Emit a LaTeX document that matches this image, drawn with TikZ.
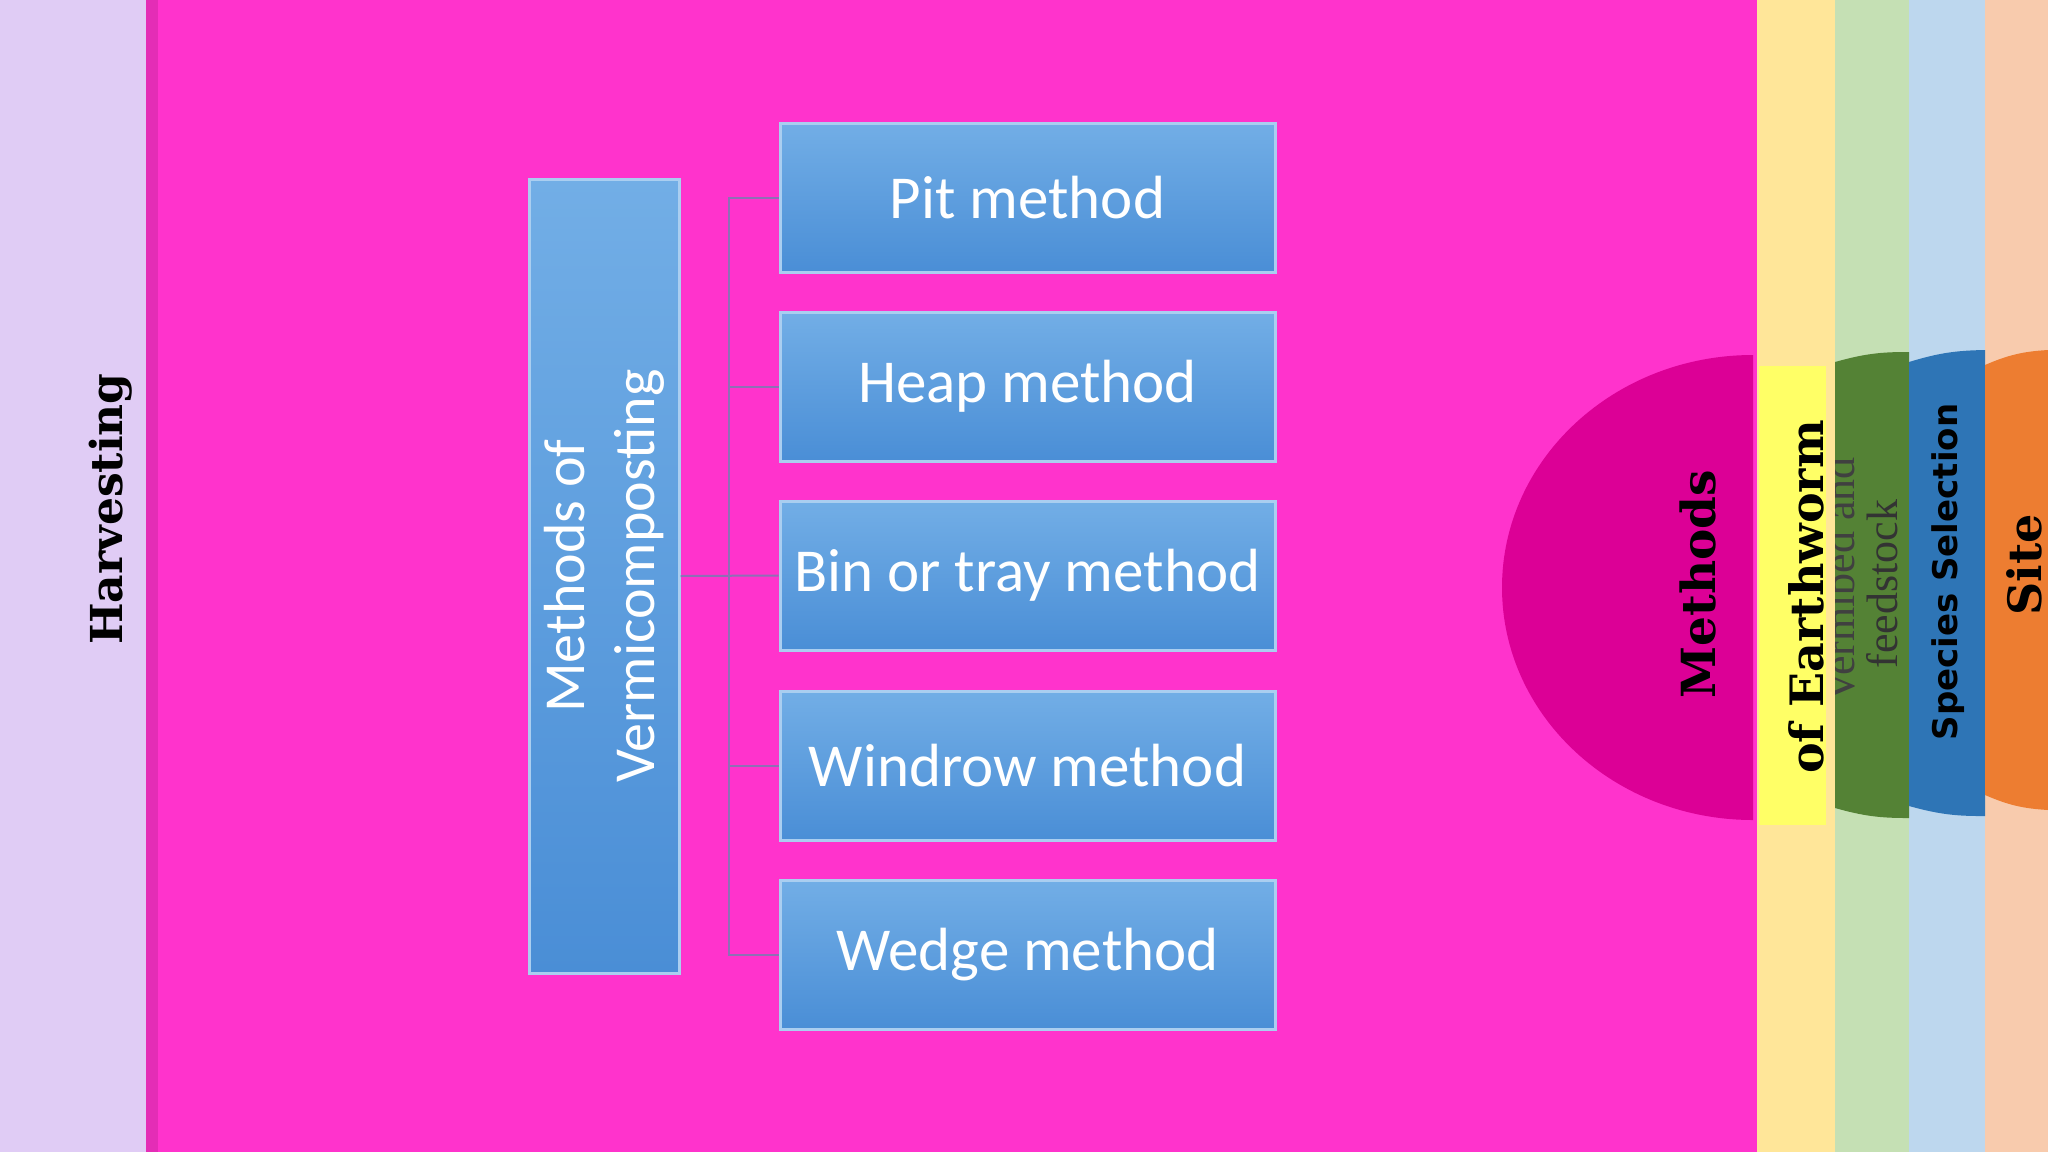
\documentclass[tikz,border=0pt]{standalone}
\usepackage{fontspec}
\setmainfont{Carlito}
\newfontfamily\slab{DejaVu Serif}
\newfontfamily\ser{Liberation Serif}
\newfontfamily\sbold{DejaVu Sans}
\definecolor{lav}{HTML}{E0CCF5}
\definecolor{mag}{HTML}{FF33CC}
\definecolor{dmag}{HTML}{DC0096}
\definecolor{ly}{HTML}{FFE699}
\definecolor{by}{HTML}{FFFF66}
\definecolor{lg}{HTML}{C5E0B4}
\definecolor{dg}{HTML}{548235}
\definecolor{lb}{HTML}{BDD7EE}
\definecolor{db}{HTML}{2E75B6}
\definecolor{lo}{HTML}{F8CBAD}
\definecolor{do}{HTML}{ED7D31}
\definecolor{bt}{HTML}{72AEE6}
\definecolor{bb}{HTML}{4A8ED6}
\definecolor{conn}{HTML}{8E6FB5}
\begin{document}
\begin{tikzpicture}[x=1pt,y=-1pt,
  box/.style={draw=bt!60!white,line width=3pt,top color=bt,bottom color=bb,text=white,font=\fontsize{61}{64}\selectfont,inner sep=0pt},
  conn/.style={draw=conn,line width=2pt}]
\useasboundingbox (0,0) rectangle (2048,1152);
% backgrounds
\fill[lav] (0,0) rectangle (146,1152);
\fill[lo] (1985,0) rectangle (2048,1152);
\fill[lb] (1909,0) rectangle (1985,1152);
\fill[lg] (1835,0) rectangle (1909,1152);
\fill[ly] (1757,0) rectangle (1835,1152);
\fill[mag] (146,0) rectangle (1757,1152);
\fill[mag!70!black,opacity=0.35] (146,0) rectangle (158,1152);
\node[rotate=90,font=\slab\bfseries\fontsize{44}{48}\selectfont] (harv) at (111,509) {Harvesting};
% right tabs
\begin{scope}
\clip (1400,300) rectangle (1753,900);
\fill[dmag] (1753,587.5) ellipse[x radius=251,y radius=232.5];
\end{scope}
\node[rotate=90,font=\slab\bfseries\fontsize{47}{50}\selectfont] (meth) at (1698,584) {Methods};
\fill[by] (1759,366) rectangle (1826,825);
\node[rotate=90,font=\slab\bfseries\fontsize{46}{50}\selectfont] (earth) at (1806,597) {of Earthworm};
\fill[dg] (1835,362) to[bend left=8] (1909,352) -- (1909,818) to[bend left=8] (1835,808) -- cycle;
\begin{scope}
\clip (1835,352) rectangle (1909,818);
\node[rotate=90,font=\ser\fontsize{44}{48}\selectfont,text=black!75] (verm) at (1840,580) {Vermibed and};
\end{scope}
\node[rotate=90,font=\ser\fontsize{44}{48}\selectfont,text=black!80] (feed) at (1882,584) {feedstock};
\fill[db] (1909,362) to[bend left=8] (1985,350) -- (1985,816) to[bend left=8] (1909,806) -- cycle;
\node[rotate=90,font=\sbold\bfseries\fontsize{34}{38}\selectfont] (spec) at (1948,572) {Species Selection};
\fill[do] (1985,365) to[bend left=10] (2048,350) -- (2048,810) to[bend left=10] (1985,795) -- cycle;
\node[rotate=90,font=\slab\bfseries\fontsize{46}{50}\selectfont] (site) at (2024,565) {Site};
% main diagram
\node[box,minimum width=150pt,minimum height=794pt,align=center] (root) at (604,576) {};
\node[rotate=90,text=white,align=center,font=\fontsize{58}{70}\selectfont] (rootlbl) at (604,576) {Methods of\\Vermicomposting};
\foreach \n/\y/\t in {pit/197.5/Pit method,heap/386.5/Heap method,bin/575.5/Bin or tray method,wind/765.5/Windrow method,wedge/954.5/Wedge method}{
  \node[box,minimum width=495pt,minimum height=149pt] (\n) at (1027.5,\y) {\t};
}
\coordinate (sp) at (729,575.5);
\draw[conn] (root.east) -- (bin.west);
\draw[conn] (pit.west) -| (sp) |- (wedge.west);
\draw[conn] (heap.west) -- (heap.west -| sp);
\draw[conn] (wind.west) -- (wind.west -| sp);
\end{tikzpicture}
\end{document}
